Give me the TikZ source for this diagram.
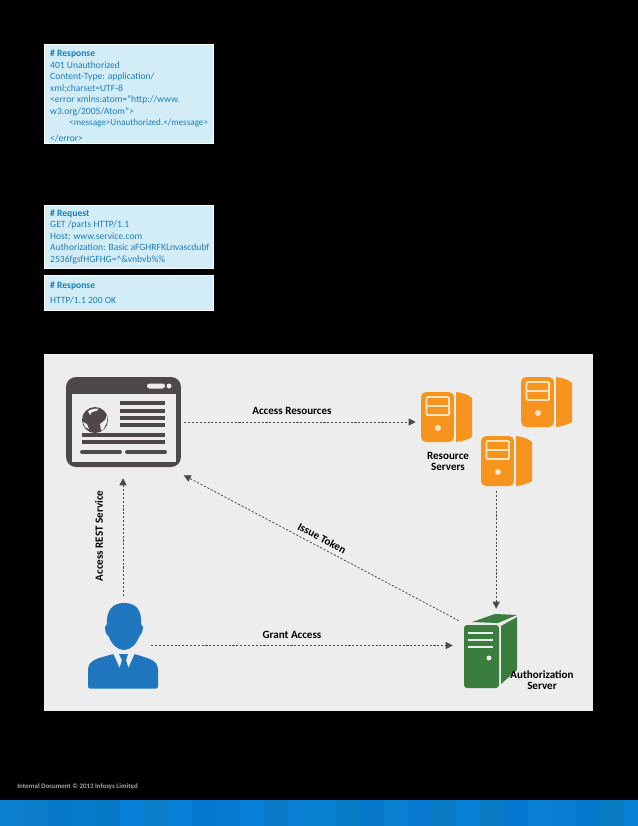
\documentclass[tikz,border=0pt]{standalone}
\usepackage{fontspec}
\setmainfont{Carlito}
\usepackage{xcolor}
\usetikzlibrary{arrows.meta}
\definecolor{panel}{HTML}{EDEDED}
\definecolor{boxfill}{HTML}{D3EDF7}
\definecolor{boxink}{HTML}{1C7DB8}
\definecolor{screen}{HTML}{4F4849}
\definecolor{amber}{HTML}{F7941E}
\definecolor{cream}{HTML}{FCE3C2}
\definecolor{forest}{HTML}{3A7D3C}
\definecolor{suit}{HTML}{1F75BE}

\begin{document}
\begin{tikzpicture}[x=0.02cm,y=-0.02cm,
   codebox/.style={anchor=north west,fill=boxfill,draw=white,line width=0.25pt,text=boxink,
     align=flush left,text width=3.14cm,inner xsep=0.12cm,inner ysep=0pt,
     font=\fontsize{5.45}{6.5}\selectfont},
   lab/.style={font=\fontsize{6.3}{6.2}\selectfont\bfseries,text=black,align=center,inner sep=0pt},
   flow/.style={screen,line width=0.45pt,dash pattern=on 1.2pt off 1pt,-{Triangle[length=4pt,width=4pt]}},
   bar/.style={screen,line width=2.2pt}]
  \useasboundingbox (0,0) rectangle (638,826);
  \fill[black] (0,0) rectangle (638,826);
  % Message boxes
  \node[codebox,minimum height=1.98cm] (resp1) at (44,44) {\rule{0pt}{6.5pt}\textbf{\# Response}\\401 Unauthorized\\Content-Type: application/\\xml;charset=UTF-8\\<error xmlns:atom="http://www.\\w3.org/2005/Atom">\\\mbox{\hspace*{0.38cm}\fontsize{5.2}{6.5}\selectfont <message>Unauthorized.</message>}\\[2.6pt]</error>};
  \node[codebox,minimum height=1.26cm] (req) at (44,205) {\textbf{\# Request}\\GET /parts HTTP/1.1\\Host: www.service.com\\\mbox{Authorization: Basic aFGHRFKLnvascdubf}\\2536fgsfHGFHG=\^{}\&vnbvb\%\%};
  \node[codebox,minimum height=0.7cm] (resp2) at (44,275) {\textbf{\# Response}\\[2pt]HTTP/1.1 200 OK};
  % Panel
  \fill[panel] (44,354) rectangle (593,711);
  % Browser
  \node[fill=screen,rounded corners=0.2cm,inner sep=0pt,minimum width=2.3cm,minimum height=1.8cm] (browser) at (123.5,422) {};
  \fill[panel] (72,394) rectangle (176,462);
  \fill[panel,rounded corners=0.05cm] (147,383.5) rectangle (165,388.5);
  \fill[panel] (169,386) circle (2.5);
  \fill[screen] (95,420) circle (13);
  \fill[panel] (88,411) .. controls (91,409) and (96,408) .. (99,409) -- (96,411) -- (92,412) -- (90,415) -- cycle;
  \fill[panel] (100,424) -- (105,420) -- (107,415) -- (107,422) -- (103,430) -- (101,430) -- cycle;
  \fill[panel] (83,422) -- (87,424) -- (89,429) -- (85,427) -- cycle;
  \foreach \yy in {403,411,418,425}{
    \draw[bar] (120,\yy) -- (165,\yy);}
  \foreach \yy in {435,442}{
    \draw[bar] (82,\yy) -- (165,\yy);}
  \draw[bar,line cap=round] (82,452) -- (120,452);
  \draw[bar,line cap=round] (127,452) -- (165,452);
  % Resource servers
  \foreach \i/\xx/\yy in {1/421/392,2/521/377,3/481/436}{
    \begin{scope}[shift={(\xx,\yy)}]
      \node[fill=amber,rounded corners=0.1cm,inner sep=0pt,minimum width=0.66cm,minimum height=1cm] (rs\i) at (16.5,25) {};
      \fill[amber] (35,0) .. controls (43,1) and (48,3) .. (51,6) -- (51,45)
        .. controls (48,47) and (43,49) .. (35,50) -- cycle;
      \draw[cream,line width=1pt,rounded corners=0.02cm] (5.5,5) rectangle (28,23);
      \draw[cream,line width=1pt] (5.5,14) -- (28,14);
      \fill[cream] (17,36) circle (3);
    \end{scope}}
  \node[lab] (rslab) at (448,461) {Resource\\Servers};
  % Authorization server
  \node[inner sep=0pt,minimum width=1.06cm,minimum height=1.48cm] (auth) at (490.5,651) {};
  \fill[forest,rounded corners=0.06cm] (464,625) rectangle (499,688);
  \fill[forest] (472,622) -- (495,614) -- (517,615) -- (498,623) -- cycle;
  \fill[forest] (501,626) -- (517,617) -- (517,670) -- (501,684) -- cycle;
  \foreach \yy in {633,640,647}{
    \draw[panel,line width=1pt] (468,\yy) -- (493,\yy);}
  \fill[panel] (489,658) circle (2.5);
  \node[lab] (authlab) at (542,680) {Authorization\\Server};
  % Person
  \node[inner sep=0pt,minimum width=1.4cm,minimum height=1.7cm] (person) at (123,645.5) {};
  \fill[suit] (124,603) .. controls (136,603) and (142,610) .. (141,624) -- (143,627)
    .. controls (143,633) and (140,635) .. (139,637) .. controls (136,645) and (130,650) .. (124,650)
    .. controls (118,650) and (112,645) .. (109,637) .. controls (107,635) and (105,633) .. (105,627)
    -- (107,624) .. controls (106,610) and (113,603) .. (124,603);
  \fill[suit,rounded corners=0.04cm] (113,654) .. controls (100,658) and (88,659) .. (88,672) -- (88,688.5)
    -- (158,688.5) -- (158,672) .. controls (158,659) and (146,658) .. (135,654) -- cycle;
  \fill[panel] (113,653) -- (135,653) -- (124,677) -- cycle;
  \fill[suit] (119,654) -- (128,654) -- (126,660) -- (130,673) -- (124,679) -- (118,673) -- (122,660) -- cycle;
  % Connectors
  \draw[flow,shorten <=1.7pt,shorten >=2.8pt] (browser.east) -- (browser.east -| rs1.west);
  \draw[flow,shorten <=2.8pt,shorten >=2.8pt] (rs3.-93.4) -- (rs3.-93.4 |- auth.north);
  \draw[flow,shorten <=3.2pt,shorten >=9.6pt] (auth.134) -- (browser.-45);
  \draw[flow,shorten <=4pt,shorten >=6.2pt] (person.north) -- (person.north |- browser.south);
  \draw[flow,shorten <=-4pt,shorten >=6.2pt] (person.east) -- (person.east -| auth.west);
  \node[lab] (reslab) at (292,411) {Access Resources};
  \node[lab,rotate=-28] (toklab) at (322,538) {Issue Token};
  \node[lab,rotate=90] (restlab) at (99,536) {Access REST Service};
  \node[lab] (grantlab) at (292,635) {Grant Access};
  % Footer
  \node[font=\fontsize{3.9}{4}\selectfont\bfseries,text=black!35,anchor=west,inner sep=0pt] (foot) at (17,787) {Internal Document © 2013 Infosys Limited};
  \foreach \i/\c in {0/0A7FD0,1/0A7CC8,2/0879C8,3/087ACB,4/0579C6,5/0580D6,6/0A7FC8,7/0780D8,8/0578D0,9/067AD0,10/087FD6,11/0A7AC8,12/0A7FD4,13/0680D0,14/087CC6,15/0778CC,16/0A80D0,17/0878D0,18/0A7CC4,19/0880D6,20/0A7CC4,21/0578D2,22/0A80D4,23/0A7CD2,24/0578CE,25/0A7DC2,26/0780D6}{
    \definecolor{stripe}{HTML}{\c}
    \fill[stripe] (\i*24,800) rectangle (\i*24+24.2,826);}
\end{tikzpicture}
\end{document}
